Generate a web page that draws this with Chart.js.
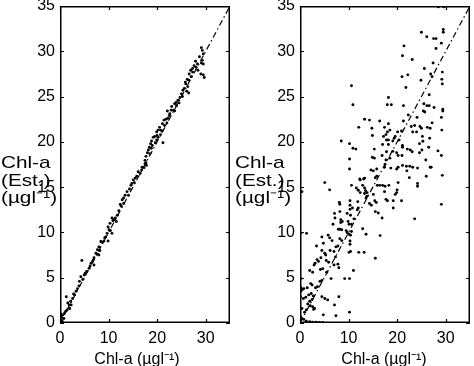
<!DOCTYPE html>
<html>
<head>
<meta charset="utf-8">
<script src="https://cdn.jsdelivr.net/npm/chart.js@4.4.1/dist/chart.umd.min.js"></script>
<style>
  html, body { margin: 0; padding: 0; background: #fff; }
  #wrap { position: relative; width: 474px; height: 366px; }
  .panel { position: absolute; top: 0; height: 366px; }
  #p1 { left: 0; width: 234px; }
  #p2 { left: 234px; width: 240px; }
</style>
</head>
<body>
<div id="wrap">
  <div class="panel" id="p1"><canvas id="leftChart"></canvas></div>
  <div class="panel" id="p2"><canvas id="rightChart"></canvas></div>
</div>
<script>
// tick values shared by both panels
const xTicks = [0, 10, 20, 30]
const yTicks = [0, 5, 10, 15, 20, 25, 30, 35]
const axisMax = 35
const xTitle = 'Chl-a (µgl⁻¹)'
const yTitle = ['Chl-a', '(Est.)', '(µgl⁻¹)']

// left panel: [measured, estimated]
const leftPoints = [
  [29.1,30.4],[29.3,30.1],[29.5,29.7],[29.3,29.0],[29.1,28.7],[29.5,28.6],[27.6,28.4],[28.0,28.25],[27.3,28.1],
  [28.4,27.9],[29.0,27.5],[29.5,27.4],[29.7,27.1],[26.6,27.5],[27.0,27.2],[26.5,26.8],[25.9,26.4],[25.6,25.9],
  [26.1,25.6],[26.5,25.4],[25.3,25.7],[24.3,24.6],[23.9,24.35],[23.6,24.2],[23.4,23.5],[22.9,23.5],[22.6,23.1],
  [22.1,23.4],[22.2,22.6],[21.4,22.4],[21.1,22.0],[21.55,21.8],[20.5,21.6],[20.2,21.3],[19.9,21.1],[20.7,20.8],
  [21.2,19.9],[19.5,20.6],[19.2,20.5],[18.85,20.1],[19.9,20.2],[20.2,20.5],[18.65,19.8],[18.4,19.4],[18.2,19.1],
  [18.0,18.8],[17.7,18.4],[17.5,17.96],[17.7,17.7],
  [28.7,29.4],[27.9,28.9],[26.9,27.9],[26.2,26.9],[25.0,25.3],[24.7,24.9],[24.0,24.0],[23.0,23.9],[22.5,22.9],
  [21.8,22.5],[21.0,21.2],[20.0,20.7],[19.0,19.6],[18.5,18.7],[26.3,26.1],[25.8,26.6],[27.3,27.7],[28.3,28.6],
  [23.6,23.4],[22.0,22.1],[20.7,21.3],[19.6,19.9],[18.8,19.3],[24.5,24.3],[25.2,25.0],
  [17.5,17.6],[17.8,17.4],[17.3,17.15],[16.8,16.9],[16.5,16.5],[16.1,16.7],[15.8,16.2],[15.5,16.0],[15.1,15.8],
  [14.8,15.4],[14.6,15.2],[13.8,14.5],[13.4,14.1],[14.1,14.1],[13.1,13.8],[12.8,13.6],[13.1,13.2],[12.4,13.1],
  [12.1,12.4],[11.8,11.9],[11.4,11.6],[11.6,11.2],[10.7,11.6],[10.3,11.0],[9.9,10.6],[10.4,10.2],[10.7,9.9],
  [9.7,9.9],[10.1,10.3],[9.4,9.5],[8.4,9.0],[9.05,9.05],[9.9,9.05],[8.0,8.4],[7.7,8.1],[7.4,7.7],[8.0,7.5],
  [7.0,7.2],[6.7,6.8],[6.4,6.6],[7.0,6.4],[4.5,6.9],[6.0,6.05],[5.5,5.7],[5.0,5.3],[4.3,5.1],[4.7,4.8],[4.0,4.6],
  [3.6,3.8],[3.3,3.5],[3.0,3.1],[2.6,2.7],[2.2,2.4],[2.3,2.0],[1.6,2.2],[1.3,2.9],[2.0,1.6],[1.5,1.45],
  [0.95,1.1],[0.6,0.9],[0.3,0.7],[0.1,0.35],[0.8,0.5],[0.4,0.25],
  [16.9,17.2],[15.3,15.5],[14.3,14.8],[12.6,12.9],[11.1,11.4],[10.9,11.3],[9.2,9.4],[8.7,8.9],[8.2,8.0],
  [7.7,7.6],[6.9,7.0],[6.2,6.3],[5.2,5.5],[3.9,4.1],[2.8,3.2],[1.9,2.0],[1.2,1.3],[0.2,1.0],[0.5,0.1],[0.1,0.8]
]

// right panel: [measured, estimated]
const rightPoints = [
  [28.5,34.9],[29.6,34.9],[25.0,32.1],[29.5,32.4],[29.5,32.1],[26.1,31.6],[27.5,31.4],[28.0,31.4],[29.1,30.9],
  [21.4,30.6],[28.0,30.3],[21.1,29.5],[23.1,29.1],[27.4,28.7],[25.6,28.1],[29.3,27.7],[26.9,27.5],[27.2,27.2],
  [22.2,27.4],[21.0,27.2],[24.9,26.8],[29.2,26.9],[29.3,26.4],[10.6,26.2],[21.8,26.0],[26.6,25.2],[18.2,24.9],
  [10.9,24.1],[17.97,24.1],[18.8,24.1],[21.3,24.0],[25.5,24.2],[26.1,24.0],[26.6,24.0],[27.6,23.8],[29.4,23.6],
  [29.4,23.4],[25.4,23.4],[25.7,23.3],[22.3,22.96],[24.1,22.7],[29.1,22.7],[13.3,22.5],[14.3,22.4],[16.4,22.3],
  [21.3,22.3],[18.2,22.0],[27.2,22.1],[12.1,21.6],[14.8,21.5],[17.4,21.6],[22.9,21.7],[23.6,21.8],[24.7,21.7],
  [25.0,21.5],[26.2,21.6],[26.8,21.5],[29.2,21.3],[18.0,21.1],[18.5,21.3],[20.1,21.1],[20.9,21.2],[23.2,21.1],
  [24.0,21.1],[14.9,20.7],[17.2,20.6],[17.7,20.8],[19.6,20.6],[19.4,20.4],[25.2,20.6],[26.7,20.4],[8.5,20.1],
  [17.8,20.2],[18.2,20.2],[19.1,20.1],[20.4,20.2],[25.3,20.06],[10.2,19.8],[15.3,19.2],[10.9,19.3],[11.5,19.2],
  [17.0,19.7],[18.2,19.7],[21.1,19.6],[21.1,19.4],[22.1,19.2],[22.7,19.1],[23.1,18.9],[24.6,19.8],[24.6,18.8],
  [25.1,19.1],[26.5,19.4],[19.1,18.95],[17.8,18.9],[19.9,18.8],[20.2,18.5],[21.0,18.5],[16.9,18.5],[28.4,19.0],
  [29.1,18.5],[10.2,18.1],[14.9,18.3],[15.3,18.2],[17.7,18.0],[18.5,18.2],[25.9,18.0],
  [10.2,17.0],[14.6,16.9],[15.1,16.8],[15.8,17.0],[17.5,17.5],[17.4,17.2],[18.7,17.1],[19.9,17.0],[20.2,17.2],
  [21.1,17.4],[21.9,17.3],[22.6,17.3],[23.2,17.2],[22.0,16.8],[24.2,17.1],[26.8,17.2],[27.0,17.2],[5.1,15.5],
  [6.1,14.7],[10.6,15.2],[12.3,15.9],[12.4,15.8],[13.3,16.0],[13.1,15.9],[15.5,16.05],[15.8,16.2],[12.9,15.2],
  [13.3,14.9],[15.9,15.2],[16.4,15.2],[17.0,15.2],[17.5,15.1],[18.3,15.2],[20.2,15.5],[20.0,14.7],[22.5,16.05],
  [24.2,15.4],[24.2,15.1],[26.0,16.2],[29.3,16.3],[0.4,14.5],[11.6,14.9],[12.0,14.65],[12.4,14.4],[13.5,14.6],
  [13.3,14.3],[13.8,14.4],[13.8,14.0],[13.6,13.8],[15.1,14.2],[10.3,13.5],[15.4,13.5],[15.7,13.3],[17.4,14.5],
  [17.7,13.65],[18.0,13.5],[19.6,14.2],[19.9,14.4],[19.2,13.5],[20.9,13.5],[8.1,13.3],[8.2,13.1],[7.1,12.1],
  [8.2,12.3],[10.3,13.0],[10.8,12.7],[10.3,12.55],[12.0,12.7],[11.8,12.5],[9.7,12.1],[10.4,11.9],[11.9,13.4],
  [14.3,13.2],[14.7,13.0],[15.5,12.3],[16.1,12.15],[19.2,12.7],[23.6,11.5],[16.9,11.6],[29.1,13.1],[7.2,11.6],
  [8.4,11.4],[8.4,11.1],[8.7,11.2],[9.9,11.2],[10.1,10.9],[10.6,10.9],[11.1,11.5],[6.8,10.9],[7.9,10.35],
  [8.2,10.35],[8.6,10.3],[9.5,10.2],[9.7,10.0],[10.1,9.8],[12.9,10.4],[13.6,9.8],[10.6,10.1],[10.4,9.7],
  [1.35,9.9],[0.14,9.9],[5.8,9.7],[6.1,9.4],[4.5,9.5],[16.5,9.65],[6.6,9.1],[8.6,9.1],[8.2,9.3],[3.4,8.5],
  [4.8,8.8],[10.3,9.05],[10.3,8.7],[7.4,8.4],[7.8,8.5],[6.2,8.0],[10.1,7.8],[10.4,7.9],[12.1,7.8],[13.2,7.8],
  [4.5,8.0],[5.1,7.7],[5.3,7.5],[7.0,7.9],[7.3,7.3],[4.3,7.2],[3.8,6.8],[3.5,7.0],[5.4,6.9],[5.9,6.7],
  [15.5,7.15],[7.0,6.4],[7.8,6.5],[8.0,6.1],[11.0,5.8],[2.9,6.4],[3.1,6.6],[2.0,5.8],[2.6,5.6],[4.2,5.9],
  [4.7,6.0],[5.5,5.6],[0.2,4.9],[6.4,4.9],[9.2,4.9],[10.2,4.9],[4.5,4.7],[4.1,4.6],[3.6,4.0],[3.2,3.9],
  [2.2,4.35],[2.5,4.2],[1.5,3.9],[0.2,3.9],[0.5,3.7],[0.8,3.8],[0.14,3.5],[0.07,2.9],[0.7,2.7],[1.2,2.85],
  [1.8,3.1],[2.3,3.25],[2.7,3.0],[4.5,2.9],[5.1,2.7],[5.7,2.55],[8.0,2.9],[2.0,2.4],[2.5,2.6],[1.6,2.1],
  [2.1,1.9],[2.6,1.8],[3.0,1.6],[2.8,1.5],[0.4,1.6],[1.3,1.45],[0.95,1.2],[7.1,2.0],[4.8,0.9],[7.4,0.8],
  [10.2,1.2],[0.1,0.7],[0.4,0.5],[0.8,0.4],[1.3,0.2],[2.0,0.15],[2.6,0.1],[3.3,0.1],[4.0,0.05],[4.7,0.05]
]

// 1:1 reference line
const oneToOne = [[0, 0], [axisMax, axisMax]]

const FONT = '"Liberation Sans", Arial, Helvetica, sans-serif'

// draws the MATLAB style box, inward ticks and the axis titles
const boxPlugin = {
  id: 'matlabBox',
  afterDatasetsDraw(chart, args, opts) {
    const { ctx, chartArea: a, scales: { x, y } } = chart
    ctx.save()
    ctx.strokeStyle = '#000'
    ctx.lineWidth = 1.5
    ctx.strokeRect(a.left + 0.75, a.top + 0.75, a.right - a.left - 1.5, a.bottom - a.top - 1.5)
    ctx.lineWidth = 1.2
    ctx.beginPath()
    x.ticks.forEach(t => {
      const px = Math.round(x.getPixelForValue(t.value)) + 0.5
      ctx.moveTo(px, a.bottom); ctx.lineTo(px, a.bottom - 4)
      ctx.moveTo(px, a.top); ctx.lineTo(px, a.top + 4)
    })
    y.ticks.forEach(t => {
      const py = Math.round(y.getPixelForValue(t.value)) + 0.5
      ctx.moveTo(a.left, py); ctx.lineTo(a.left + 4, py)
      ctx.moveTo(a.right, py); ctx.lineTo(a.right - 4, py)
    })
    ctx.stroke()

    ctx.fillStyle = '#000'
    ctx.textBaseline = 'alphabetic'
    ctx.font = '16px ' + FONT
    ctx.textAlign = 'center'
    ctx.fillText(xTitle, opts.xTitleX, 364)

    ctx.font = '17px ' + FONT
    ctx.textAlign = 'left'
    yTitle.forEach((line, i) => {
      ctx.save()
      ctx.translate(opts.yTitleX, 168 + i * 17.5)
      ctx.scale(1.22, 1)
      ctx.fillText(line, 0, 0)
      ctx.restore()
    })
    ctx.restore()
  }
}

function makeChart(id, points, plotLeft, plotRight, canvasW, titlePos) {
  const ctx = document.getElementById(id)
  return new Chart(ctx, {
    type: 'scatter',
    data: {
      datasets: [
        {
          data: oneToOne.map(p => ({ x: p[0], y: p[1] })),
          showLine: true,
          borderColor: '#000',
          borderWidth: 1.2,
          borderDash: [6, 3, 1.5, 3],
          pointRadius: 0,
          order: 0
        },
        {
          data: points.map(p => ({ x: p[0], y: p[1] })),
          pointRadius: 1.45,
          pointBackgroundColor: '#000',
          pointBorderWidth: 0,
          order: 1
        }
      ]
    },
    options: {
      responsive: true,
      maintainAspectRatio: false,
      animation: false,
      devicePixelRatio: 1,
      layout: { padding: { top: 6, right: canvasW - plotRight, left: 0, bottom: 0 } },
      plugins: {
        legend: { display: false },
        tooltip: { enabled: false },
        matlabBox: titlePos
      },
      scales: {
        x: {
          type: 'linear',
          min: 0,
          max: axisMax,
          grid: { display: false, drawTicks: false },
          border: { display: false },
          afterBuildTicks: s => { s.ticks = xTicks.map(v => ({ value: v })) },
          afterFit: s => { s.height = 43; s.paddingLeft = 0; s.paddingRight = 0 },
          ticks: { color: '#000', padding: 6, font: { size: 16, family: FONT }, maxRotation: 0 }
        },
        y: {
          type: 'linear',
          min: 0,
          max: axisMax,
          grid: { display: false, drawTicks: false },
          border: { display: false },
          afterBuildTicks: s => { s.ticks = yTicks.map(v => ({ value: v })) },
          afterFit: s => { s.width = plotLeft; s.paddingTop = 0; s.paddingBottom = 0 },
          ticks: { color: '#000', padding: 5, font: { size: 16, family: FONT } }
        }
      }
    },
    plugins: [boxPlugin]
  })
}

makeChart('leftChart', leftPoints, 60, 232, 234, { xTitleX: 137, yTitleX: 1 })
makeChart('rightChart', rightPoints, 66, 239, 240, { xTitleX: 150, yTitleX: 1 })
</script>
</body>
</html>
